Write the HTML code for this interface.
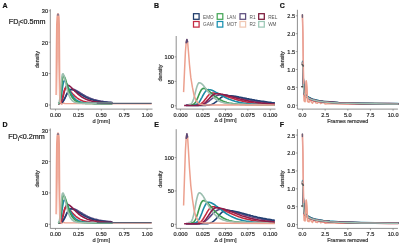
<!DOCTYPE html><html><head><meta charset="utf-8"><style>html,body{margin:0;padding:0;background:#fff;width:400px;height:245px;overflow:hidden}svg{display:block;will-change:transform}</style></head><body><svg width="400" height="245" viewBox="0 0 400 245" font-family="Liberation Sans, sans-serif">
<rect width="400" height="245" fill="#fff"/>
<text x="5.00" y="8.00" font-size="7" text-anchor="middle" fill="#111" stroke="#111" stroke-width="0.2" font-weight="bold" >A</text>
<text x="156.50" y="8.00" font-size="7" text-anchor="middle" fill="#111" stroke="#111" stroke-width="0.2" font-weight="bold" >B</text>
<text x="282.20" y="8.00" font-size="7" text-anchor="middle" fill="#111" stroke="#111" stroke-width="0.2" font-weight="bold" >C</text>
<text x="5.00" y="127.30" font-size="7" text-anchor="middle" fill="#111" stroke="#111" stroke-width="0.2" font-weight="bold" >D</text>
<text x="156.50" y="127.30" font-size="7" text-anchor="middle" fill="#111" stroke="#111" stroke-width="0.2" font-weight="bold" >E</text>
<text x="281.80" y="127.30" font-size="7" text-anchor="middle" fill="#111" stroke="#111" stroke-width="0.2" font-weight="bold" >F</text>
<text x="8.8" y="23.9" font-size="7.2" fill="#222" stroke="#222" stroke-width="0.22">FD<tspan font-size="5.2" dy="1.9">i</tspan><tspan dy="-1.9" dx="-0.3">&lt;0.5mm</tspan></text>
<text x="8.2" y="138.9" font-size="7.2" fill="#222" stroke="#222" stroke-width="0.22">FD<tspan font-size="5.2" dy="1.9">i</tspan><tspan dy="-1.9" dx="-0.3">&lt;0.2mm</tspan></text>
<path d="M50.3,9.2 L50.3,109.1 L152.5,109.1" fill="none" stroke="#6a6a6a" stroke-width="0.75"/>
<line x1="48.699999999999996" y1="105.00" x2="50.3" y2="105.00" stroke="#6a6a6a" stroke-width="0.6"/>
<text x="48.00" y="107.40" font-size="5.6" text-anchor="end" fill="#2a2a2a" stroke="#2a2a2a" stroke-width="0.2" font-weight="normal" >0</text>
<line x1="48.699999999999996" y1="73.60" x2="50.3" y2="73.60" stroke="#6a6a6a" stroke-width="0.6"/>
<text x="48.00" y="76.00" font-size="5.6" text-anchor="end" fill="#2a2a2a" stroke="#2a2a2a" stroke-width="0.2" font-weight="normal" >10</text>
<line x1="48.699999999999996" y1="42.20" x2="50.3" y2="42.20" stroke="#6a6a6a" stroke-width="0.6"/>
<text x="48.00" y="44.60" font-size="5.6" text-anchor="end" fill="#2a2a2a" stroke="#2a2a2a" stroke-width="0.2" font-weight="normal" >20</text>
<line x1="48.699999999999996" y1="10.80" x2="50.3" y2="10.80" stroke="#6a6a6a" stroke-width="0.6"/>
<text x="48.00" y="13.20" font-size="5.6" text-anchor="end" fill="#2a2a2a" stroke="#2a2a2a" stroke-width="0.2" font-weight="normal" >30</text>
<line x1="55.50" y1="109.1" x2="55.50" y2="110.69999999999999" stroke="#6a6a6a" stroke-width="0.6"/>
<text x="55.50" y="116.80" font-size="5.6" text-anchor="middle" fill="#2a2a2a" stroke="#2a2a2a" stroke-width="0.2" font-weight="normal" >0.00</text>
<line x1="78.40" y1="109.1" x2="78.40" y2="110.69999999999999" stroke="#6a6a6a" stroke-width="0.6"/>
<text x="78.40" y="116.80" font-size="5.6" text-anchor="middle" fill="#2a2a2a" stroke="#2a2a2a" stroke-width="0.2" font-weight="normal" >0.25</text>
<line x1="101.30" y1="109.1" x2="101.30" y2="110.69999999999999" stroke="#6a6a6a" stroke-width="0.6"/>
<text x="101.30" y="116.80" font-size="5.6" text-anchor="middle" fill="#2a2a2a" stroke="#2a2a2a" stroke-width="0.2" font-weight="normal" >0.50</text>
<line x1="124.20" y1="109.1" x2="124.20" y2="110.69999999999999" stroke="#6a6a6a" stroke-width="0.6"/>
<text x="124.20" y="116.80" font-size="5.6" text-anchor="middle" fill="#2a2a2a" stroke="#2a2a2a" stroke-width="0.2" font-weight="normal" >0.75</text>
<line x1="147.10" y1="109.1" x2="147.10" y2="110.69999999999999" stroke="#6a6a6a" stroke-width="0.6"/>
<text x="147.10" y="116.80" font-size="5.6" text-anchor="middle" fill="#2a2a2a" stroke="#2a2a2a" stroke-width="0.2" font-weight="normal" >1.00</text>
<text x="39.1" y="59.6" font-size="5.4" text-anchor="middle" fill="#333" stroke="#333" stroke-width="0.18" transform="rotate(-90 39.1 59.6)">density</text>
<text x="101.30" y="123.10" font-size="5.7" text-anchor="middle" fill="#333" stroke="#333" stroke-width="0.18">d [mm]</text>
<path d="M60.1,100.6 L61.5,102.5 L64.7,103.4 L151.7,103.7" fill="none" stroke="#eca08e" stroke-width="1.5"/>
<path d="M58.2,103.3 58.3,103.3 58.4,103.3 58.6,103.3 58.8,103.3 59.0,103.3 59.2,103.3 59.4,103.3 59.7,103.2 60.0,103.2 60.2,103.2 60.6,103.1 60.9,103.0 61.2,102.8 61.6,102.7 61.9,102.4 62.3,102.1 62.7,101.6 63.1,101.1 63.5,100.5 63.9,99.8 64.3,99.1 64.8,98.2 65.2,97.3 65.7,96.4 66.2,95.5 66.6,94.5 67.1,93.6 67.6,92.8 68.1,92.0 68.6,91.2 69.2,90.6 69.7,90.1 70.2,89.7 70.8,89.4 71.4,89.2 71.9,89.1 72.5,89.2 73.1,89.2 73.7,89.4 74.3,89.6 74.9,89.8 75.5,90.1 76.1,90.4 76.7,90.7 77.4,91.1 78.0,91.5 78.6,91.8 79.3,92.3 80.0,92.7 80.6,93.1 81.3,93.5 82.0,93.9 82.7,94.4 83.4,94.8 84.1,95.2 84.8,95.6 85.5,96.0 86.2,96.4 86.9,96.7 87.7,97.1 88.4,97.4 89.1,97.8 89.9,98.1 90.7,98.4 91.4,98.7 92.2,98.9 93.0,99.2 93.7,99.5 94.5,99.7 95.3,99.9 96.1,100.1 96.9,100.3 97.7,100.5 98.5,100.7 99.4,100.9 100.2,101.0 101.0,101.2 101.9,101.3 102.7,101.4 103.5,101.6 104.4,101.7 105.2,101.8 106.1,101.9 107.0,102.0 107.9,102.1 108.7,102.2 109.6,102.2 110.5,102.3 111.4,102.4 112.3,102.4" fill="none" stroke="#5e4d86" stroke-width="1.6" stroke-linejoin="round"/>
<path d="M58.2,103.4 58.3,103.4 58.4,103.4 58.6,103.4 58.8,103.4 59.0,103.4 59.2,103.4 59.4,103.4 59.7,103.3 60.0,103.3 60.2,103.3 60.6,103.3 60.9,103.2 61.2,103.1 61.6,102.9 61.9,102.7 62.3,102.4 62.7,102.0 63.1,101.5 63.5,100.9 63.9,100.2 64.3,99.4 64.8,98.5 65.2,97.5 65.7,96.5 66.2,95.4 66.6,94.4 67.1,93.4 67.6,92.5 68.1,91.7 68.6,91.0 69.2,90.4 69.7,90.0 70.2,89.7 70.8,89.6 71.4,89.6 71.9,89.6 72.5,89.7 73.1,89.9 73.7,90.1 74.3,90.4 74.9,90.7 75.5,91.0 76.1,91.4 76.7,91.8 77.4,92.2 78.0,92.6 78.6,93.0 79.3,93.5 80.0,93.9 80.6,94.3 81.3,94.7 82.0,95.2 82.7,95.6 83.4,96.0 84.1,96.4 84.8,96.8 85.5,97.1 86.2,97.5 86.9,97.8 87.7,98.1 88.4,98.5 89.1,98.8 89.9,99.0 90.7,99.3 91.4,99.6 92.2,99.8 93.0,100.0 93.7,100.3 94.5,100.5 95.3,100.7 96.1,100.8 96.9,101.0 97.7,101.2 98.5,101.3 99.4,101.5 100.2,101.6 101.0,101.7 101.9,101.8 102.7,101.9 103.5,102.0 104.4,102.1 105.2,102.2 106.1,102.3 107.0,102.4 107.9,102.5 108.7,102.5 109.6,102.6 110.5,102.6 111.4,102.7 112.3,102.7" fill="none" stroke="#223f72" stroke-width="1.6" stroke-linejoin="round"/>
<path d="M58.2,103.4 58.3,103.4 58.4,103.4 58.6,103.4 58.8,103.4 59.0,103.4 59.2,103.4 59.4,103.4 59.7,103.3 60.0,103.3 60.2,103.1 60.6,102.9 60.9,102.6 61.2,102.1 61.6,101.5 61.9,100.6 62.3,99.5 62.7,98.2 63.1,96.7 63.5,95.1 63.9,93.3 64.3,91.6 64.8,90.0 65.2,88.5 65.7,87.3 66.2,86.3 66.6,85.6 67.1,85.3 67.6,85.2 68.1,85.3 68.6,85.5 69.2,85.8 69.7,86.1 70.2,86.5 70.8,87.0 71.4,87.5 71.9,88.1 72.5,88.7 73.1,89.3 73.7,89.9 74.3,90.5 74.9,91.1 75.5,91.7 76.1,92.3 76.7,92.9 77.4,93.5 78.0,94.1 78.6,94.7 79.3,95.2 80.0,95.7 80.6,96.2 81.3,96.7 82.0,97.1 82.7,97.5 83.4,97.9 84.1,98.3 84.8,98.6 85.5,99.0 86.2,99.3 86.9,99.6 87.7,99.9 88.4,100.1 89.1,100.4 89.9,100.6 90.7,100.8 91.4,101.0 92.2,101.2 93.0,101.4 93.7,101.5 94.5,101.7 95.3,101.8 96.1,101.9 96.9,102.0 97.7,102.1 98.5,102.2 99.4,102.3 100.2,102.4 101.0,102.5 101.9,102.6 102.7,102.6 103.5,102.7 104.4,102.8 105.2,102.8 106.1,102.9 107.0,102.9 107.9,102.9 108.7,103.0 109.6,103.0 110.5,103.1 111.4,103.1 112.3,103.1" fill="none" stroke="#8c1c4a" stroke-width="1.6" stroke-linejoin="round"/>
<path d="M58.2,103.6 58.3,103.6 58.4,103.6 58.6,103.6 58.8,103.6 59.0,103.6 59.2,103.6 59.4,103.5 59.7,103.5 60.0,103.3 60.2,103.1 60.6,102.8 60.9,102.3 61.2,101.6 61.6,100.7 61.9,99.5 62.3,98.2 62.7,96.6 63.1,95.0 63.5,93.3 63.9,91.7 64.3,90.4 64.8,89.2 65.2,88.4 65.7,88.0 66.2,87.9 66.6,88.0 67.1,88.2 67.6,88.5 68.1,88.9 68.6,89.4 69.2,89.9 69.7,90.5 70.2,91.1 70.8,91.7 71.4,92.3 71.9,93.0 72.5,93.7 73.1,94.3 73.7,94.9 74.3,95.5 74.9,96.1 75.5,96.7 76.1,97.2 76.7,97.7 77.4,98.2 78.0,98.6 78.6,99.0 79.3,99.4 80.0,99.8 80.6,100.1 81.3,100.4 82.0,100.7 82.7,101.0 83.4,101.2 84.1,101.4 84.8,101.6 85.5,101.8 86.2,102.0 86.9,102.1 87.7,102.3 88.4,102.4 89.1,102.5 89.9,102.6 90.7,102.7 91.4,102.8 92.2,102.9 93.0,103.0 93.7,103.0 94.5,103.1 95.3,103.1 96.1,103.2 96.9,103.2 97.7,103.3 98.5,103.3 99.4,103.3 100.2,103.3 101.0,103.4 101.9,103.4 102.7,103.4 103.5,103.4 104.4,103.4 105.2,103.5 106.1,103.5 107.0,103.5 107.9,103.5 108.7,103.5 109.6,103.5 110.5,103.5 111.4,103.5 112.3,103.5" fill="none" stroke="#c42a40" stroke-width="1.6" stroke-linejoin="round"/>
<path d="M58.2,103.4 58.3,103.4 58.4,103.4 58.6,103.4 58.8,103.4 59.0,103.4 59.2,103.3 59.4,103.1 59.7,102.8 60.0,102.3 60.2,101.6 60.6,100.4 60.9,98.9 61.2,96.9 61.6,94.5 61.9,91.9 62.3,89.1 62.7,86.5 63.1,84.2 63.5,82.4 63.9,81.3 64.3,80.8 64.8,80.9 65.2,81.3 65.7,81.9 66.2,82.7 66.6,83.6 67.1,84.7 67.6,85.8 68.1,87.0 68.6,88.2 69.2,89.4 69.7,90.6 70.2,91.8 70.8,92.9 71.4,93.9 71.9,94.9 72.5,95.8 73.1,96.6 73.7,97.4 74.3,98.1 74.9,98.7 75.5,99.3 76.1,99.8 76.7,100.2 77.4,100.6 78.0,101.0 78.6,101.3 79.3,101.6 80.0,101.8 80.6,102.0 81.3,102.2 82.0,102.4 82.7,102.5 83.4,102.7 84.1,102.8 84.8,102.9 85.5,102.9 86.2,103.0 86.9,103.1 87.7,103.1 88.4,103.2 89.1,103.2 89.9,103.2 90.7,103.3 91.4,103.3 92.2,103.3 93.0,103.3 93.7,103.3 94.5,103.4 95.3,103.4 96.1,103.4 96.9,103.4 97.7,103.4 98.5,103.4 99.4,103.4 100.2,103.4 101.0,103.4 101.9,103.4 102.7,103.4 103.5,103.4 104.4,103.4 105.2,103.4 106.1,103.4 107.0,103.4 107.9,103.4 108.7,103.4 109.6,103.4 110.5,103.4 111.4,103.4 112.3,103.4" fill="none" stroke="#1c8aa6" stroke-width="1.6" stroke-linejoin="round"/>
<path d="M58.2,103.6 58.3,103.6 58.4,103.5 58.6,103.5 58.8,103.4 59.0,103.3 59.2,103.0 59.4,102.6 59.7,101.8 60.0,100.6 60.2,98.9 60.6,96.7 60.9,93.9 61.2,90.6 61.6,87.1 61.9,83.7 62.3,80.6 62.7,78.2 63.1,76.6 63.5,76.0 63.9,76.1 64.3,76.6 64.8,77.5 65.2,78.6 65.7,79.9 66.2,81.4 66.6,83.0 67.1,84.7 67.6,86.4 68.1,88.0 68.6,89.6 69.2,91.1 69.7,92.5 70.2,93.8 70.8,95.0 71.4,96.0 71.9,97.0 72.5,97.9 73.1,98.6 73.7,99.3 74.3,99.9 74.9,100.5 75.5,100.9 76.1,101.3 76.7,101.6 77.4,101.9 78.0,102.2 78.6,102.4 79.3,102.6 80.0,102.7 80.6,102.9 81.3,103.0 82.0,103.1 82.7,103.2 83.4,103.2 84.1,103.3 84.8,103.3 85.5,103.4 86.2,103.4 86.9,103.4 87.7,103.5 88.4,103.5 89.1,103.5 89.9,103.5 90.7,103.5 91.4,103.5 92.2,103.5 93.0,103.6 93.7,103.6 94.5,103.6 95.3,103.6 96.1,103.6 96.9,103.6 97.7,103.6 98.5,103.6 99.4,103.6 100.2,103.6 101.0,103.6 101.9,103.6 102.7,103.6 103.5,103.6 104.4,103.6 105.2,103.6 106.1,103.6 107.0,103.6 107.9,103.6 108.7,103.6 109.6,103.6 110.5,103.6 111.4,103.6 112.3,103.6" fill="none" stroke="#3d9a52" stroke-width="1.6" stroke-linejoin="round"/>
<path d="M58.2,103.4 58.3,103.3 58.4,103.3 58.6,103.2 58.8,103.0 59.0,102.6 59.2,102.0 59.4,101.0 59.7,99.4 60.0,97.3 60.2,94.4 60.6,91.0 60.9,87.2 61.2,83.3 61.6,79.7 61.9,76.7 62.3,74.6 62.7,73.7 63.1,73.7 63.5,74.4 63.9,75.5 64.3,77.0 64.8,78.8 65.2,80.8 65.7,83.0 66.2,85.1 66.6,87.2 67.1,89.2 67.6,91.0 68.1,92.7 68.6,94.3 69.2,95.7 69.7,96.9 70.2,97.9 70.8,98.9 71.4,99.6 71.9,100.3 72.5,100.9 73.1,101.3 73.7,101.7 74.3,102.0 74.9,102.3 75.5,102.5 76.1,102.7 76.7,102.8 77.4,103.0 78.0,103.0 78.6,103.1 79.3,103.2 80.0,103.2 80.6,103.3 81.3,103.3 82.0,103.3 82.7,103.4 83.4,103.4 84.1,103.4 84.8,103.4 85.5,103.4 86.2,103.4 86.9,103.4 87.7,103.4 88.4,103.4 89.1,103.4 89.9,103.4 90.7,103.4 91.4,103.4 92.2,103.4 93.0,103.4 93.7,103.4 94.5,103.4 95.3,103.4 96.1,103.4 96.9,103.4 97.7,103.4 98.5,103.4 99.4,103.4 100.2,103.4 101.0,103.4 101.9,103.4 102.7,103.4 103.5,103.4 104.4,103.4 105.2,103.4 106.1,103.4 107.0,103.4 107.9,103.4 108.7,103.4 109.6,103.4 110.5,103.4 111.4,103.4 112.3,103.4" fill="none" stroke="#9cbfb0" stroke-width="1.6" stroke-linejoin="round"/>
<path d="M96.7,103.1 L112.3,103.3 L128.8,103.4 L151.7,103.4" fill="none" stroke="#5a5f72" stroke-width="1.3"/>
<defs><linearGradient id="g0" x1="0" y1="13" x2="0" y2="95" gradientUnits="userSpaceOnUse"><stop offset="0" stop-color="#eca08e" stop-opacity="1"/><stop offset="0.55" stop-color="#eca08e" stop-opacity="0.8"/><stop offset="1" stop-color="#eca08e" stop-opacity="0.1"/></linearGradient></defs>
<path d="M56.1,95.0 56.2,80.0 56.4,50.0 56.7,25.0 57.1,17.0 57.6,14.2 58.0,13.8 58.5,14.2 59.0,17.0 59.3,25.0 59.5,50.0 59.7,80.0 60.0,97.0 Z" fill="url(#g0)" stroke="none"/>
<path d="M56.1,95.0 56.2,80.0 56.4,50.0 56.7,25.0 57.1,17.0 57.6,14.2 58.0,13.8 58.5,14.2 59.0,17.0 59.3,25.0 59.5,50.0 59.7,80.0 60.0,97.0 60.5,102.5 61.5,104.0 62.5,104.3" fill="none" stroke="#eca08e" stroke-width="1.4" stroke-linejoin="round"/>
<path d="M57.4,15.2 Q58.0,13.2 58.6,15.2" fill="none" stroke="#8a7a90" stroke-width="1.2" stroke-linecap="round"/>
<path d="M50.3,128.5 L50.3,228.39999999999998 L152.5,228.39999999999998" fill="none" stroke="#6a6a6a" stroke-width="0.75"/>
<line x1="48.699999999999996" y1="224.30" x2="50.3" y2="224.30" stroke="#6a6a6a" stroke-width="0.6"/>
<text x="48.00" y="226.70" font-size="5.6" text-anchor="end" fill="#2a2a2a" stroke="#2a2a2a" stroke-width="0.2" font-weight="normal" >0</text>
<line x1="48.699999999999996" y1="192.90" x2="50.3" y2="192.90" stroke="#6a6a6a" stroke-width="0.6"/>
<text x="48.00" y="195.30" font-size="5.6" text-anchor="end" fill="#2a2a2a" stroke="#2a2a2a" stroke-width="0.2" font-weight="normal" >10</text>
<line x1="48.699999999999996" y1="161.50" x2="50.3" y2="161.50" stroke="#6a6a6a" stroke-width="0.6"/>
<text x="48.00" y="163.90" font-size="5.6" text-anchor="end" fill="#2a2a2a" stroke="#2a2a2a" stroke-width="0.2" font-weight="normal" >20</text>
<line x1="48.699999999999996" y1="130.10" x2="50.3" y2="130.10" stroke="#6a6a6a" stroke-width="0.6"/>
<text x="48.00" y="132.50" font-size="5.6" text-anchor="end" fill="#2a2a2a" stroke="#2a2a2a" stroke-width="0.2" font-weight="normal" >30</text>
<line x1="55.50" y1="228.39999999999998" x2="55.50" y2="229.99999999999997" stroke="#6a6a6a" stroke-width="0.6"/>
<text x="55.50" y="236.10" font-size="5.6" text-anchor="middle" fill="#2a2a2a" stroke="#2a2a2a" stroke-width="0.2" font-weight="normal" >0.00</text>
<line x1="78.40" y1="228.39999999999998" x2="78.40" y2="229.99999999999997" stroke="#6a6a6a" stroke-width="0.6"/>
<text x="78.40" y="236.10" font-size="5.6" text-anchor="middle" fill="#2a2a2a" stroke="#2a2a2a" stroke-width="0.2" font-weight="normal" >0.25</text>
<line x1="101.30" y1="228.39999999999998" x2="101.30" y2="229.99999999999997" stroke="#6a6a6a" stroke-width="0.6"/>
<text x="101.30" y="236.10" font-size="5.6" text-anchor="middle" fill="#2a2a2a" stroke="#2a2a2a" stroke-width="0.2" font-weight="normal" >0.50</text>
<line x1="124.20" y1="228.39999999999998" x2="124.20" y2="229.99999999999997" stroke="#6a6a6a" stroke-width="0.6"/>
<text x="124.20" y="236.10" font-size="5.6" text-anchor="middle" fill="#2a2a2a" stroke="#2a2a2a" stroke-width="0.2" font-weight="normal" >0.75</text>
<line x1="147.10" y1="228.39999999999998" x2="147.10" y2="229.99999999999997" stroke="#6a6a6a" stroke-width="0.6"/>
<text x="147.10" y="236.10" font-size="5.6" text-anchor="middle" fill="#2a2a2a" stroke="#2a2a2a" stroke-width="0.2" font-weight="normal" >1.00</text>
<text x="39.1" y="178.9" font-size="5.4" text-anchor="middle" fill="#333" stroke="#333" stroke-width="0.18" transform="rotate(-90 39.1 178.9)">density</text>
<text x="101.30" y="242.40" font-size="5.7" text-anchor="middle" fill="#333" stroke="#333" stroke-width="0.18">d [mm]</text>
<path d="M60.1,219.9 L61.5,221.8 L64.7,222.7 L151.7,223.0" fill="none" stroke="#eca08e" stroke-width="1.5"/>
<path d="M58.2,222.6 58.3,222.6 58.4,222.6 58.6,222.6 58.8,222.6 59.0,222.6 59.2,222.6 59.4,222.6 59.7,222.5 60.0,222.5 60.2,222.5 60.6,222.4 60.9,222.3 61.2,222.1 61.6,222.0 61.9,221.7 62.3,221.4 62.7,220.9 63.1,220.4 63.5,219.8 63.9,219.1 64.3,218.4 64.8,217.5 65.2,216.6 65.7,215.7 66.2,214.8 66.6,213.8 67.1,212.9 67.6,212.1 68.1,211.3 68.6,210.5 69.2,209.9 69.7,209.4 70.2,209.0 70.8,208.7 71.4,208.5 71.9,208.4 72.5,208.5 73.1,208.5 73.7,208.7 74.3,208.9 74.9,209.1 75.5,209.4 76.1,209.7 76.7,210.0 77.4,210.4 78.0,210.8 78.6,211.1 79.3,211.6 80.0,212.0 80.6,212.4 81.3,212.8 82.0,213.2 82.7,213.7 83.4,214.1 84.1,214.5 84.8,214.9 85.5,215.3 86.2,215.7 86.9,216.0 87.7,216.4 88.4,216.7 89.1,217.1 89.9,217.4 90.7,217.7 91.4,218.0 92.2,218.2 93.0,218.5 93.7,218.8 94.5,219.0 95.3,219.2 96.1,219.4 96.9,219.6 97.7,219.8 98.5,220.0 99.4,220.2 100.2,220.3 101.0,220.5 101.9,220.6 102.7,220.7 103.5,220.9 104.4,221.0 105.2,221.1 106.1,221.2 107.0,221.3 107.9,221.4 108.7,221.5 109.6,221.5 110.5,221.6 111.4,221.7 112.3,221.7" fill="none" stroke="#5e4d86" stroke-width="1.6" stroke-linejoin="round"/>
<path d="M58.2,222.7 58.3,222.7 58.4,222.7 58.6,222.7 58.8,222.7 59.0,222.7 59.2,222.7 59.4,222.7 59.7,222.6 60.0,222.6 60.2,222.6 60.6,222.6 60.9,222.5 61.2,222.4 61.6,222.2 61.9,222.0 62.3,221.7 62.7,221.3 63.1,220.8 63.5,220.2 63.9,219.5 64.3,218.7 64.8,217.8 65.2,216.8 65.7,215.8 66.2,214.7 66.6,213.7 67.1,212.7 67.6,211.8 68.1,211.0 68.6,210.3 69.2,209.7 69.7,209.3 70.2,209.0 70.8,208.9 71.4,208.9 71.9,208.9 72.5,209.0 73.1,209.2 73.7,209.4 74.3,209.7 74.9,210.0 75.5,210.3 76.1,210.7 76.7,211.1 77.4,211.5 78.0,211.9 78.6,212.3 79.3,212.8 80.0,213.2 80.6,213.6 81.3,214.0 82.0,214.5 82.7,214.9 83.4,215.3 84.1,215.7 84.8,216.1 85.5,216.4 86.2,216.8 86.9,217.1 87.7,217.4 88.4,217.8 89.1,218.1 89.9,218.3 90.7,218.6 91.4,218.9 92.2,219.1 93.0,219.3 93.7,219.6 94.5,219.8 95.3,220.0 96.1,220.1 96.9,220.3 97.7,220.5 98.5,220.6 99.4,220.8 100.2,220.9 101.0,221.0 101.9,221.1 102.7,221.2 103.5,221.3 104.4,221.4 105.2,221.5 106.1,221.6 107.0,221.7 107.9,221.8 108.7,221.8 109.6,221.9 110.5,221.9 111.4,222.0 112.3,222.0" fill="none" stroke="#223f72" stroke-width="1.6" stroke-linejoin="round"/>
<path d="M58.2,222.7 58.3,222.7 58.4,222.7 58.6,222.7 58.8,222.7 59.0,222.7 59.2,222.7 59.4,222.7 59.7,222.6 60.0,222.6 60.2,222.4 60.6,222.2 60.9,221.9 61.2,221.4 61.6,220.8 61.9,219.9 62.3,218.8 62.7,217.5 63.1,216.0 63.5,214.4 63.9,212.6 64.3,210.9 64.8,209.3 65.2,207.8 65.7,206.6 66.2,205.6 66.6,204.9 67.1,204.6 67.6,204.5 68.1,204.6 68.6,204.8 69.2,205.1 69.7,205.4 70.2,205.8 70.8,206.3 71.4,206.8 71.9,207.4 72.5,208.0 73.1,208.6 73.7,209.2 74.3,209.8 74.9,210.4 75.5,211.0 76.1,211.6 76.7,212.2 77.4,212.8 78.0,213.4 78.6,214.0 79.3,214.5 80.0,215.0 80.6,215.5 81.3,216.0 82.0,216.4 82.7,216.8 83.4,217.2 84.1,217.6 84.8,217.9 85.5,218.3 86.2,218.6 86.9,218.9 87.7,219.2 88.4,219.4 89.1,219.7 89.9,219.9 90.7,220.1 91.4,220.3 92.2,220.5 93.0,220.7 93.7,220.8 94.5,221.0 95.3,221.1 96.1,221.2 96.9,221.3 97.7,221.4 98.5,221.5 99.4,221.6 100.2,221.7 101.0,221.8 101.9,221.9 102.7,221.9 103.5,222.0 104.4,222.1 105.2,222.1 106.1,222.2 107.0,222.2 107.9,222.2 108.7,222.3 109.6,222.3 110.5,222.4 111.4,222.4 112.3,222.4" fill="none" stroke="#8c1c4a" stroke-width="1.6" stroke-linejoin="round"/>
<path d="M58.2,222.9 58.3,222.9 58.4,222.9 58.6,222.9 58.8,222.9 59.0,222.9 59.2,222.9 59.4,222.8 59.7,222.8 60.0,222.6 60.2,222.4 60.6,222.1 60.9,221.6 61.2,220.9 61.6,220.0 61.9,218.8 62.3,217.5 62.7,215.9 63.1,214.3 63.5,212.6 63.9,211.0 64.3,209.7 64.8,208.5 65.2,207.7 65.7,207.3 66.2,207.2 66.6,207.3 67.1,207.5 67.6,207.8 68.1,208.2 68.6,208.7 69.2,209.2 69.7,209.8 70.2,210.4 70.8,211.0 71.4,211.6 71.9,212.3 72.5,213.0 73.1,213.6 73.7,214.2 74.3,214.8 74.9,215.4 75.5,216.0 76.1,216.5 76.7,217.0 77.4,217.5 78.0,217.9 78.6,218.3 79.3,218.7 80.0,219.1 80.6,219.4 81.3,219.7 82.0,220.0 82.7,220.3 83.4,220.5 84.1,220.7 84.8,220.9 85.5,221.1 86.2,221.3 86.9,221.4 87.7,221.6 88.4,221.7 89.1,221.8 89.9,221.9 90.7,222.0 91.4,222.1 92.2,222.2 93.0,222.3 93.7,222.3 94.5,222.4 95.3,222.4 96.1,222.5 96.9,222.5 97.7,222.6 98.5,222.6 99.4,222.6 100.2,222.6 101.0,222.7 101.9,222.7 102.7,222.7 103.5,222.7 104.4,222.7 105.2,222.8 106.1,222.8 107.0,222.8 107.9,222.8 108.7,222.8 109.6,222.8 110.5,222.8 111.4,222.8 112.3,222.8" fill="none" stroke="#c42a40" stroke-width="1.6" stroke-linejoin="round"/>
<path d="M58.2,222.7 58.3,222.7 58.4,222.7 58.6,222.7 58.8,222.7 59.0,222.7 59.2,222.6 59.4,222.4 59.7,222.1 60.0,221.6 60.2,220.9 60.6,219.7 60.9,218.2 61.2,216.2 61.6,213.8 61.9,211.2 62.3,208.4 62.7,205.8 63.1,203.5 63.5,201.7 63.9,200.6 64.3,200.1 64.8,200.2 65.2,200.6 65.7,201.2 66.2,202.0 66.6,202.9 67.1,204.0 67.6,205.1 68.1,206.3 68.6,207.5 69.2,208.7 69.7,209.9 70.2,211.1 70.8,212.2 71.4,213.2 71.9,214.2 72.5,215.1 73.1,215.9 73.7,216.7 74.3,217.4 74.9,218.0 75.5,218.6 76.1,219.1 76.7,219.5 77.4,219.9 78.0,220.3 78.6,220.6 79.3,220.9 80.0,221.1 80.6,221.3 81.3,221.5 82.0,221.7 82.7,221.8 83.4,222.0 84.1,222.1 84.8,222.2 85.5,222.2 86.2,222.3 86.9,222.4 87.7,222.4 88.4,222.5 89.1,222.5 89.9,222.5 90.7,222.6 91.4,222.6 92.2,222.6 93.0,222.6 93.7,222.6 94.5,222.7 95.3,222.7 96.1,222.7 96.9,222.7 97.7,222.7 98.5,222.7 99.4,222.7 100.2,222.7 101.0,222.7 101.9,222.7 102.7,222.7 103.5,222.7 104.4,222.7 105.2,222.7 106.1,222.7 107.0,222.7 107.9,222.7 108.7,222.7 109.6,222.7 110.5,222.7 111.4,222.7 112.3,222.7" fill="none" stroke="#1c8aa6" stroke-width="1.6" stroke-linejoin="round"/>
<path d="M58.2,222.9 58.3,222.9 58.4,222.8 58.6,222.8 58.8,222.7 59.0,222.6 59.2,222.3 59.4,221.9 59.7,221.1 60.0,219.9 60.2,218.2 60.6,216.0 60.9,213.2 61.2,209.9 61.6,206.4 61.9,203.0 62.3,199.9 62.7,197.5 63.1,195.9 63.5,195.3 63.9,195.4 64.3,195.9 64.8,196.8 65.2,197.9 65.7,199.2 66.2,200.7 66.6,202.3 67.1,204.0 67.6,205.7 68.1,207.3 68.6,208.9 69.2,210.4 69.7,211.8 70.2,213.1 70.8,214.3 71.4,215.3 71.9,216.3 72.5,217.2 73.1,217.9 73.7,218.6 74.3,219.2 74.9,219.8 75.5,220.2 76.1,220.6 76.7,220.9 77.4,221.2 78.0,221.5 78.6,221.7 79.3,221.9 80.0,222.0 80.6,222.2 81.3,222.3 82.0,222.4 82.7,222.5 83.4,222.5 84.1,222.6 84.8,222.6 85.5,222.7 86.2,222.7 86.9,222.7 87.7,222.8 88.4,222.8 89.1,222.8 89.9,222.8 90.7,222.8 91.4,222.8 92.2,222.8 93.0,222.9 93.7,222.9 94.5,222.9 95.3,222.9 96.1,222.9 96.9,222.9 97.7,222.9 98.5,222.9 99.4,222.9 100.2,222.9 101.0,222.9 101.9,222.9 102.7,222.9 103.5,222.9 104.4,222.9 105.2,222.9 106.1,222.9 107.0,222.9 107.9,222.9 108.7,222.9 109.6,222.9 110.5,222.9 111.4,222.9 112.3,222.9" fill="none" stroke="#3d9a52" stroke-width="1.6" stroke-linejoin="round"/>
<path d="M58.2,222.7 58.3,222.6 58.4,222.6 58.6,222.5 58.8,222.3 59.0,221.9 59.2,221.3 59.4,220.3 59.7,218.7 60.0,216.6 60.2,213.7 60.6,210.3 60.9,206.5 61.2,202.6 61.6,199.0 61.9,196.0 62.3,193.9 62.7,193.0 63.1,193.0 63.5,193.7 63.9,194.8 64.3,196.3 64.8,198.1 65.2,200.1 65.7,202.3 66.2,204.4 66.6,206.5 67.1,208.5 67.6,210.3 68.1,212.0 68.6,213.6 69.2,215.0 69.7,216.2 70.2,217.2 70.8,218.2 71.4,218.9 71.9,219.6 72.5,220.2 73.1,220.6 73.7,221.0 74.3,221.3 74.9,221.6 75.5,221.8 76.1,222.0 76.7,222.1 77.4,222.3 78.0,222.3 78.6,222.4 79.3,222.5 80.0,222.5 80.6,222.6 81.3,222.6 82.0,222.6 82.7,222.7 83.4,222.7 84.1,222.7 84.8,222.7 85.5,222.7 86.2,222.7 86.9,222.7 87.7,222.7 88.4,222.7 89.1,222.7 89.9,222.7 90.7,222.7 91.4,222.7 92.2,222.7 93.0,222.7 93.7,222.7 94.5,222.7 95.3,222.7 96.1,222.7 96.9,222.7 97.7,222.7 98.5,222.7 99.4,222.7 100.2,222.7 101.0,222.7 101.9,222.7 102.7,222.7 103.5,222.7 104.4,222.7 105.2,222.7 106.1,222.7 107.0,222.7 107.9,222.7 108.7,222.7 109.6,222.7 110.5,222.7 111.4,222.7 112.3,222.7" fill="none" stroke="#9cbfb0" stroke-width="1.6" stroke-linejoin="round"/>
<path d="M96.7,222.4 L112.3,222.6 L128.8,222.7 L151.7,222.7" fill="none" stroke="#5a5f72" stroke-width="1.3"/>
<defs><linearGradient id="g119" x1="0" y1="132.3" x2="0" y2="214.3" gradientUnits="userSpaceOnUse"><stop offset="0" stop-color="#eca08e" stop-opacity="1"/><stop offset="0.55" stop-color="#eca08e" stop-opacity="0.8"/><stop offset="1" stop-color="#eca08e" stop-opacity="0.1"/></linearGradient></defs>
<path d="M56.1,214.3 56.2,199.3 56.4,169.3 56.7,144.3 57.1,136.3 57.6,133.5 58.0,133.1 58.5,133.5 59.0,136.3 59.3,144.3 59.5,169.3 59.7,199.3 60.0,216.3 Z" fill="url(#g119)" stroke="none"/>
<path d="M56.1,214.3 56.2,199.3 56.4,169.3 56.7,144.3 57.1,136.3 57.6,133.5 58.0,133.1 58.5,133.5 59.0,136.3 59.3,144.3 59.5,169.3 59.7,199.3 60.0,216.3 60.5,221.8 61.5,223.3 62.5,223.6" fill="none" stroke="#eca08e" stroke-width="1.4" stroke-linejoin="round"/>
<path d="M57.4,134.5 Q58.0,132.5 58.6,134.5" fill="none" stroke="#8a7a90" stroke-width="1.2" stroke-linecap="round"/>
<path d="M176.2,36.0 L176.2,109.1 L275.5,109.1" fill="none" stroke="#6a6a6a" stroke-width="0.75"/>
<line x1="174.6" y1="105.80" x2="176.2" y2="105.80" stroke="#6a6a6a" stroke-width="0.6"/>
<text x="173.90" y="108.20" font-size="5.6" text-anchor="end" fill="#2a2a2a" stroke="#2a2a2a" stroke-width="0.2" font-weight="normal" >0</text>
<line x1="174.6" y1="81.35" x2="176.2" y2="81.35" stroke="#6a6a6a" stroke-width="0.6"/>
<text x="173.90" y="83.75" font-size="5.6" text-anchor="end" fill="#2a2a2a" stroke="#2a2a2a" stroke-width="0.2" font-weight="normal" >50</text>
<line x1="174.6" y1="56.90" x2="176.2" y2="56.90" stroke="#6a6a6a" stroke-width="0.6"/>
<text x="173.90" y="59.30" font-size="5.6" text-anchor="end" fill="#2a2a2a" stroke="#2a2a2a" stroke-width="0.2" font-weight="normal" >100</text>
<line x1="180.50" y1="109.1" x2="180.50" y2="110.69999999999999" stroke="#6a6a6a" stroke-width="0.6"/>
<text x="180.50" y="116.80" font-size="5.6" text-anchor="middle" fill="#2a2a2a" stroke="#2a2a2a" stroke-width="0.2" font-weight="normal" >0.000</text>
<line x1="202.95" y1="109.1" x2="202.95" y2="110.69999999999999" stroke="#6a6a6a" stroke-width="0.6"/>
<text x="202.95" y="116.80" font-size="5.6" text-anchor="middle" fill="#2a2a2a" stroke="#2a2a2a" stroke-width="0.2" font-weight="normal" >0.025</text>
<line x1="225.40" y1="109.1" x2="225.40" y2="110.69999999999999" stroke="#6a6a6a" stroke-width="0.6"/>
<text x="225.40" y="116.80" font-size="5.6" text-anchor="middle" fill="#2a2a2a" stroke="#2a2a2a" stroke-width="0.2" font-weight="normal" >0.050</text>
<line x1="247.85" y1="109.1" x2="247.85" y2="110.69999999999999" stroke="#6a6a6a" stroke-width="0.6"/>
<text x="247.85" y="116.80" font-size="5.6" text-anchor="middle" fill="#2a2a2a" stroke="#2a2a2a" stroke-width="0.2" font-weight="normal" >0.075</text>
<line x1="270.30" y1="109.1" x2="270.30" y2="110.69999999999999" stroke="#6a6a6a" stroke-width="0.6"/>
<text x="270.30" y="116.80" font-size="5.6" text-anchor="middle" fill="#2a2a2a" stroke="#2a2a2a" stroke-width="0.2" font-weight="normal" >0.100</text>
<text x="162.3" y="73.05" font-size="5.4" text-anchor="middle" fill="#333" stroke="#333" stroke-width="0.18" transform="rotate(-90 162.3 73.05)">density</text>
<text x="225.40" y="122.40" font-size="5.7" text-anchor="middle" fill="#333" stroke="#333" stroke-width="0.18">Δ d [mm]</text>
<path d="M185.9,105.3 186.0,105.3 186.2,105.3 186.4,105.3 186.7,105.3 187.1,105.3 187.4,105.3 187.8,105.3 188.2,105.3 188.7,105.3 189.2,105.3 189.7,105.3 190.2,105.3 190.8,105.3 191.3,105.3 191.9,105.3 192.6,105.3 193.2,105.3 193.8,105.3 194.5,105.3 195.2,105.3 195.9,105.3 196.6,105.3 197.4,105.3 198.1,105.2 198.9,105.2 199.7,105.1 200.5,105.0 201.3,104.9 202.1,104.7 203.0,104.5 203.9,104.2 204.7,103.8 205.6,103.3 206.5,102.8 207.4,102.2 208.4,101.5 209.3,100.8 210.3,100.0 211.2,99.3 212.2,98.5 213.2,97.7 214.2,97.1 215.2,96.4 216.3,95.9 217.3,95.4 218.4,95.1 219.4,94.9 220.5,94.8 221.6,94.8 222.7,94.8 223.8,94.9 224.9,95.0 226.1,95.1 227.2,95.3 228.4,95.5 229.5,95.7 230.7,95.9 231.9,96.1 233.1,96.4 234.3,96.6 235.5,96.9 236.7,97.2 238.0,97.5 239.2,97.7 240.5,98.0 241.7,98.3 243.0,98.6 244.3,98.9 245.6,99.2 246.9,99.4 248.2,99.7 249.5,100.0 250.8,100.2 252.2,100.5 253.5,100.7 254.9,100.9 256.2,101.2 257.6,101.4 259.0,101.6 260.4,101.8 261.8,102.0 263.2,102.2 264.6,102.4 266.0,102.5 267.5,102.7 268.9,102.8 270.4,103.0 271.8,103.1 273.3,103.3 274.8,103.4" fill="none" stroke="#5e4d86" stroke-width="1.6" stroke-linejoin="round"/>
<path d="M185.9,105.4 186.0,105.4 186.2,105.4 186.4,105.4 186.7,105.4 187.1,105.4 187.4,105.4 187.8,105.4 188.2,105.4 188.7,105.4 189.2,105.4 189.7,105.4 190.2,105.4 190.8,105.4 191.3,105.4 191.9,105.4 192.6,105.4 193.2,105.4 193.8,105.4 194.5,105.4 195.2,105.4 195.9,105.4 196.6,105.4 197.4,105.4 198.1,105.4 198.9,105.4 199.7,105.4 200.5,105.4 201.3,105.4 202.1,105.4 203.0,105.4 203.9,105.4 204.7,105.4 205.6,105.4 206.5,105.3 207.4,105.3 208.4,105.2 209.3,105.1 210.3,104.8 211.2,104.6 212.2,104.2 213.2,103.7 214.2,103.1 215.2,102.4 216.3,101.6 217.3,100.7 218.4,99.8 219.4,98.9 220.5,98.0 221.6,97.2 222.7,96.6 223.8,96.1 224.9,95.8 226.1,95.6 227.2,95.6 228.4,95.7 229.5,95.7 230.7,95.8 231.9,96.0 233.1,96.1 234.3,96.3 235.5,96.4 236.7,96.6 238.0,96.8 239.2,97.1 240.5,97.3 241.7,97.5 243.0,97.8 244.3,98.0 245.6,98.3 246.9,98.6 248.2,98.8 249.5,99.1 250.8,99.3 252.2,99.6 253.5,99.8 254.9,100.1 256.2,100.3 257.6,100.6 259.0,100.8 260.4,101.0 261.8,101.2 263.2,101.4 264.6,101.6 266.0,101.8 267.5,102.0 268.9,102.2 270.4,102.4 271.8,102.6 273.3,102.7 274.8,102.9" fill="none" stroke="#223f72" stroke-width="1.6" stroke-linejoin="round"/>
<path d="M187.7,105.2 187.8,105.2 188.0,105.2 188.2,105.2 188.5,105.2 188.8,105.2 189.2,105.2 189.6,105.2 190.0,105.2 190.4,105.2 190.9,105.2 191.4,105.2 191.9,105.2 192.5,105.2 193.0,105.2 193.6,105.2 194.2,105.2 194.8,105.2 195.5,105.2 196.1,105.2 196.8,105.1 197.5,105.0 198.2,104.9 198.9,104.7 199.7,104.5 200.4,104.1 201.2,103.6 202.0,103.0 202.8,102.3 203.6,101.4 204.4,100.4 205.3,99.3 206.2,98.2 207.0,97.1 207.9,96.0 208.8,95.0 209.7,94.2 210.6,93.6 211.6,93.2 212.5,93.0 213.5,93.0 214.5,93.1 215.5,93.2 216.5,93.3 217.5,93.5 218.5,93.8 219.5,94.1 220.6,94.4 221.6,94.7 222.7,95.0 223.8,95.4 224.8,95.8 225.9,96.2 227.0,96.5 228.2,96.9 229.3,97.3 230.4,97.7 231.6,98.1 232.7,98.5 233.9,98.8 235.1,99.2 236.3,99.5 237.5,99.9 238.7,100.2 239.9,100.5 241.1,100.8 242.4,101.1 243.6,101.4 244.9,101.6 246.2,101.9 247.4,102.1 248.7,102.3 250.0,102.5 251.3,102.7 252.6,102.9 253.9,103.1 255.3,103.2 256.6,103.4 258.0,103.5 259.3,103.6 260.7,103.8 262.1,103.9 263.4,104.0 264.8,104.1 266.2,104.2 267.6,104.2 269.0,104.3 270.5,104.4 271.9,104.5 273.3,104.5 274.8,104.6" fill="none" stroke="#c42a40" stroke-width="1.6" stroke-linejoin="round"/>
<path d="M189.5,105.0 189.6,105.0 189.8,105.0 190.0,105.0 190.3,105.0 190.6,105.0 190.9,105.0 191.3,105.0 191.7,105.0 192.2,105.0 192.6,105.0 193.1,105.0 193.6,105.0 194.2,104.9 194.7,104.9 195.3,104.8 195.9,104.6 196.5,104.4 197.1,104.0 197.8,103.6 198.4,102.9 199.1,102.2 199.8,101.2 200.5,100.0 201.2,98.7 202.0,97.3 202.7,95.9 203.5,94.5 204.3,93.1 205.1,91.9 205.9,90.9 206.7,90.2 207.6,89.7 208.4,89.6 209.3,89.7 210.2,89.8 211.1,90.0 212.0,90.3 212.9,90.7 213.8,91.1 214.8,91.6 215.7,92.1 216.7,92.6 217.7,93.1 218.6,93.7 219.6,94.3 220.7,94.9 221.7,95.5 222.7,96.1 223.8,96.6 224.8,97.2 225.9,97.7 226.9,98.2 228.0,98.7 229.1,99.2 230.2,99.6 231.4,100.1 232.5,100.5 233.6,100.8 234.8,101.2 235.9,101.5 237.1,101.8 238.3,102.1 239.4,102.4 240.6,102.6 241.8,102.8 243.1,103.0 244.3,103.2 245.5,103.4 246.7,103.5 248.0,103.7 249.3,103.8 250.5,103.9 251.8,104.0 253.1,104.1 254.4,104.2 255.7,104.3 257.0,104.4 258.3,104.5 259.6,104.5 261.0,104.6 262.3,104.6 263.7,104.7 265.0,104.7 266.4,104.7 267.8,104.8 269.2,104.8 270.6,104.8 272.0,104.8 273.4,104.9 274.8,104.9" fill="none" stroke="#1c8aa6" stroke-width="1.6" stroke-linejoin="round"/>
<path d="M189.5,104.8 189.6,104.8 189.8,104.8 190.0,104.8 190.3,104.8 190.6,104.8 190.9,104.8 191.3,104.8 191.7,104.7 192.2,104.7 192.6,104.6 193.1,104.4 193.6,104.1 194.2,103.8 194.7,103.3 195.3,102.6 195.9,101.6 196.5,100.5 197.1,99.2 197.8,97.7 198.4,96.0 199.1,94.4 199.8,92.7 200.5,91.3 201.2,90.0 202.0,89.1 202.7,88.6 203.5,88.4 204.3,88.5 205.1,88.8 205.9,89.1 206.7,89.6 207.6,90.1 208.4,90.7 209.3,91.4 210.2,92.2 211.1,92.9 212.0,93.7 212.9,94.5 213.8,95.3 214.8,96.1 215.7,96.8 216.7,97.5 217.7,98.2 218.6,98.8 219.6,99.4 220.7,100.0 221.7,100.5 222.7,101.0 223.8,101.4 224.8,101.8 225.9,102.1 226.9,102.4 228.0,102.7 229.1,103.0 230.2,103.2 231.4,103.4 232.5,103.6 233.6,103.8 234.8,103.9 235.9,104.0 237.1,104.1 238.3,104.2 239.4,104.3 240.6,104.4 241.8,104.4 243.1,104.5 244.3,104.5 245.5,104.6 246.7,104.6 248.0,104.6 249.3,104.7 250.5,104.7 251.8,104.7 253.1,104.7 254.4,104.7 255.7,104.8 257.0,104.8 258.3,104.8 259.6,104.8 261.0,104.8 262.3,104.8 263.7,104.8 265.0,104.8 266.4,104.8 267.8,104.8 269.2,104.8 270.6,104.8 272.0,104.8 273.4,104.8 274.8,104.8" fill="none" stroke="#3d9a52" stroke-width="1.6" stroke-linejoin="round"/>
<path d="M188.4,104.5 188.5,104.5 188.7,104.5 188.9,104.5 189.2,104.5 189.5,104.4 189.9,104.4 190.3,104.3 190.7,104.1 191.1,103.8 191.6,103.3 192.1,102.6 192.6,101.7 193.1,100.3 193.7,98.7 194.3,96.6 194.9,94.3 195.5,91.9 196.1,89.4 196.8,87.1 197.5,85.1 198.1,83.7 198.8,82.9 199.6,82.7 200.3,82.9 201.0,83.3 201.8,83.9 202.6,84.6 203.4,85.5 204.2,86.5 205.0,87.6 205.9,88.7 206.7,89.9 207.6,91.0 208.5,92.2 209.4,93.3 210.3,94.3 211.2,95.3 212.1,96.3 213.0,97.2 214.0,98.0 215.0,98.7 215.9,99.4 216.9,100.1 217.9,100.6 218.9,101.1 220.0,101.6 221.0,101.9 222.0,102.3 223.1,102.6 224.2,102.9 225.3,103.1 226.3,103.3 227.4,103.5 228.6,103.6 229.7,103.8 230.8,103.9 231.9,104.0 233.1,104.1 234.3,104.1 235.4,104.2 236.6,104.2 237.8,104.3 239.0,104.3 240.2,104.4 241.4,104.4 242.7,104.4 243.9,104.4 245.1,104.4 246.4,104.5 247.7,104.5 248.9,104.5 250.2,104.5 251.5,104.5 252.8,104.5 254.1,104.5 255.4,104.5 256.8,104.5 258.1,104.5 259.4,104.5 260.8,104.5 262.2,104.5 263.5,104.5 264.9,104.5 266.3,104.5 267.7,104.5 269.1,104.5 270.5,104.5 271.9,104.5 273.4,104.5 274.8,104.5" fill="none" stroke="#9cbfb0" stroke-width="1.6" stroke-linejoin="round"/>
<path d="M184.1,105.5 184.2,105.5 184.4,105.5 184.6,105.5 184.9,105.5 185.3,105.5 185.7,105.5 186.1,105.5 186.5,105.5 187.0,105.5 187.5,105.5 188.0,105.5 188.5,105.5 189.1,105.5 189.7,105.5 190.3,105.5 190.9,105.5 191.5,105.5 192.2,105.5 192.9,105.5 193.6,105.5 194.3,105.5 195.1,105.5 195.8,105.5 196.6,105.4 197.4,105.4 198.2,105.4 199.0,105.3 199.8,105.2 200.7,105.1 201.5,104.8 202.4,104.5 203.3,104.1 204.2,103.5 205.2,102.7 206.1,101.9 207.0,100.9 208.0,99.8 209.0,98.7 210.0,97.6 211.0,96.6 212.0,95.7 213.0,94.9 214.0,94.3 215.1,93.9 216.2,93.7 217.2,93.7 218.3,93.8 219.4,93.9 220.5,94.0 221.6,94.2 222.8,94.4 223.9,94.7 225.1,94.9 226.2,95.2 227.4,95.5 228.6,95.9 229.8,96.2 231.0,96.5 232.2,96.9 233.5,97.2 234.7,97.6 236.0,97.9 237.2,98.3 238.5,98.6 239.8,99.0 241.0,99.3 242.3,99.6 243.7,99.9 245.0,100.2 246.3,100.5 247.6,100.8 249.0,101.1 250.3,101.3 251.7,101.6 253.1,101.8 254.5,102.0 255.9,102.3 257.3,102.5 258.7,102.6 260.1,102.8 261.5,103.0 263.0,103.2 264.4,103.3 265.9,103.5 267.3,103.6 268.8,103.7 270.3,103.8 271.8,104.0 273.3,104.1 274.8,104.2" fill="none" stroke="#8c1c4a" stroke-width="1.6" stroke-linejoin="round"/>
<path d="M183.6,92.1 184.5,71.6 185.4,52.0 186.2,42.2 186.9,39.5 187.6,41.7 188.4,51.0 189.5,64.7 190.8,77.4 192.4,87.2 194.0,95.0 195.9,100.4 198.9,103.8 203.8,104.9 225.4,105.1 274.8,105.1" fill="none" stroke="#eca08e" stroke-width="1.5" stroke-linejoin="round"/>
<path d="M186.2,42.7 L186.9,39.5 L187.5,41.7" fill="none" stroke="#5a4a78" stroke-width="1.6" stroke-linecap="round" stroke-linejoin="round"/>
<path d="M176.2,129.2 L176.2,228.4 L275.5,228.4" fill="none" stroke="#6a6a6a" stroke-width="0.75"/>
<line x1="174.6" y1="224.30" x2="176.2" y2="224.30" stroke="#6a6a6a" stroke-width="0.6"/>
<text x="173.90" y="226.70" font-size="5.6" text-anchor="end" fill="#2a2a2a" stroke="#2a2a2a" stroke-width="0.2" font-weight="normal" >0</text>
<line x1="174.6" y1="190.95" x2="176.2" y2="190.95" stroke="#6a6a6a" stroke-width="0.6"/>
<text x="173.90" y="193.35" font-size="5.6" text-anchor="end" fill="#2a2a2a" stroke="#2a2a2a" stroke-width="0.2" font-weight="normal" >50</text>
<line x1="174.6" y1="157.60" x2="176.2" y2="157.60" stroke="#6a6a6a" stroke-width="0.6"/>
<text x="173.90" y="160.00" font-size="5.6" text-anchor="end" fill="#2a2a2a" stroke="#2a2a2a" stroke-width="0.2" font-weight="normal" >100</text>
<line x1="180.50" y1="228.4" x2="180.50" y2="230.0" stroke="#6a6a6a" stroke-width="0.6"/>
<text x="180.50" y="236.10" font-size="5.6" text-anchor="middle" fill="#2a2a2a" stroke="#2a2a2a" stroke-width="0.2" font-weight="normal" >0.000</text>
<line x1="202.95" y1="228.4" x2="202.95" y2="230.0" stroke="#6a6a6a" stroke-width="0.6"/>
<text x="202.95" y="236.10" font-size="5.6" text-anchor="middle" fill="#2a2a2a" stroke="#2a2a2a" stroke-width="0.2" font-weight="normal" >0.025</text>
<line x1="225.40" y1="228.4" x2="225.40" y2="230.0" stroke="#6a6a6a" stroke-width="0.6"/>
<text x="225.40" y="236.10" font-size="5.6" text-anchor="middle" fill="#2a2a2a" stroke="#2a2a2a" stroke-width="0.2" font-weight="normal" >0.050</text>
<line x1="247.85" y1="228.4" x2="247.85" y2="230.0" stroke="#6a6a6a" stroke-width="0.6"/>
<text x="247.85" y="236.10" font-size="5.6" text-anchor="middle" fill="#2a2a2a" stroke="#2a2a2a" stroke-width="0.2" font-weight="normal" >0.075</text>
<line x1="270.30" y1="228.4" x2="270.30" y2="230.0" stroke="#6a6a6a" stroke-width="0.6"/>
<text x="270.30" y="236.10" font-size="5.6" text-anchor="middle" fill="#2a2a2a" stroke="#2a2a2a" stroke-width="0.2" font-weight="normal" >0.100</text>
<text x="162.3" y="179.3" font-size="5.4" text-anchor="middle" fill="#333" stroke="#333" stroke-width="0.18" transform="rotate(-90 162.3 179.3)">density</text>
<text x="225.40" y="241.70" font-size="5.7" text-anchor="middle" fill="#333" stroke="#333" stroke-width="0.18">Δ d [mm]</text>
<path d="M185.9,223.6 186.0,223.6 186.2,223.6 186.4,223.6 186.7,223.6 187.1,223.6 187.4,223.6 187.8,223.6 188.2,223.6 188.7,223.6 189.2,223.6 189.7,223.6 190.2,223.6 190.8,223.6 191.3,223.6 191.9,223.6 192.6,223.6 193.2,223.6 193.8,223.6 194.5,223.6 195.2,223.6 195.9,223.6 196.6,223.6 197.4,223.6 198.1,223.5 198.9,223.5 199.7,223.4 200.5,223.3 201.3,223.1 202.1,222.8 203.0,222.5 203.9,222.1 204.7,221.6 205.6,220.9 206.5,220.2 207.4,219.4 208.4,218.5 209.3,217.5 210.3,216.4 211.2,215.4 212.2,214.3 213.2,213.3 214.2,212.4 215.2,211.5 216.3,210.8 217.3,210.2 218.4,209.7 219.4,209.4 220.5,209.3 221.6,209.3 222.7,209.4 223.8,209.5 224.9,209.6 226.1,209.8 227.2,210.0 228.4,210.2 229.5,210.5 230.7,210.8 231.9,211.1 233.1,211.5 234.3,211.8 235.5,212.2 236.7,212.5 238.0,212.9 239.2,213.3 240.5,213.7 241.7,214.1 243.0,214.5 244.3,214.9 245.6,215.2 246.9,215.6 248.2,216.0 249.5,216.3 250.8,216.7 252.2,217.0 253.5,217.4 254.9,217.7 256.2,218.0 257.6,218.3 259.0,218.6 260.4,218.8 261.8,219.1 263.2,219.4 264.6,219.6 266.0,219.8 267.5,220.1 268.9,220.3 270.4,220.5 271.8,220.7 273.3,220.8 274.8,221.0" fill="none" stroke="#5e4d86" stroke-width="1.6" stroke-linejoin="round"/>
<path d="M185.9,223.8 186.0,223.8 186.2,223.8 186.4,223.8 186.7,223.8 187.1,223.8 187.4,223.8 187.8,223.8 188.2,223.8 188.7,223.8 189.2,223.8 189.7,223.8 190.2,223.8 190.8,223.8 191.3,223.8 191.9,223.8 192.6,223.8 193.2,223.8 193.8,223.8 194.5,223.8 195.2,223.8 195.9,223.8 196.6,223.8 197.4,223.8 198.1,223.8 198.9,223.8 199.7,223.8 200.5,223.8 201.3,223.8 202.1,223.8 203.0,223.8 203.9,223.8 204.7,223.7 205.6,223.7 206.5,223.7 207.4,223.6 208.4,223.5 209.3,223.3 210.3,223.0 211.2,222.6 212.2,222.1 213.2,221.4 214.2,220.6 215.2,219.7 216.3,218.6 217.3,217.4 218.4,216.1 219.4,214.9 220.5,213.7 221.6,212.6 222.7,211.7 223.8,211.1 224.9,210.6 226.1,210.4 227.2,210.4 228.4,210.5 229.5,210.6 230.7,210.7 231.9,210.9 233.1,211.1 234.3,211.3 235.5,211.5 236.7,211.8 238.0,212.1 239.2,212.4 240.5,212.7 241.7,213.0 243.0,213.4 244.3,213.7 245.6,214.1 246.9,214.4 248.2,214.8 249.5,215.1 250.8,215.5 252.2,215.8 253.5,216.2 254.9,216.5 256.2,216.8 257.6,217.2 259.0,217.5 260.4,217.8 261.8,218.1 263.2,218.4 264.6,218.6 266.0,218.9 267.5,219.2 268.9,219.4 270.4,219.6 271.8,219.9 273.3,220.1 274.8,220.3" fill="none" stroke="#223f72" stroke-width="1.6" stroke-linejoin="round"/>
<path d="M187.7,223.5 187.8,223.5 188.0,223.5 188.2,223.5 188.5,223.5 188.8,223.5 189.2,223.5 189.6,223.5 190.0,223.5 190.4,223.5 190.9,223.5 191.4,223.5 191.9,223.5 192.5,223.5 193.0,223.5 193.6,223.5 194.2,223.5 194.8,223.5 195.5,223.5 196.1,223.4 196.8,223.4 197.5,223.3 198.2,223.1 198.9,222.9 199.7,222.5 200.4,222.0 201.2,221.4 202.0,220.5 202.8,219.5 203.6,218.3 204.4,216.9 205.3,215.4 206.2,213.9 207.0,212.4 207.9,210.9 208.8,209.6 209.7,208.5 210.6,207.6 211.6,207.1 212.5,206.8 213.5,206.8 214.5,206.9 215.5,207.1 216.5,207.3 217.5,207.6 218.5,207.9 219.5,208.3 220.6,208.7 221.6,209.1 222.7,209.6 223.8,210.1 224.8,210.6 225.9,211.1 227.0,211.7 228.2,212.2 229.3,212.7 230.4,213.3 231.6,213.8 232.7,214.3 233.9,214.8 235.1,215.3 236.3,215.8 237.5,216.2 238.7,216.7 239.9,217.1 241.1,217.5 242.4,217.9 243.6,218.3 244.9,218.6 246.2,218.9 247.4,219.3 248.7,219.5 250.0,219.8 251.3,220.1 252.6,220.3 253.9,220.6 255.3,220.8 256.6,221.0 258.0,221.2 259.3,221.4 260.7,221.5 262.1,221.7 263.4,221.8 264.8,221.9 266.2,222.1 267.6,222.2 269.0,222.3 270.5,222.4 271.9,222.5 273.3,222.6 274.8,222.6" fill="none" stroke="#c42a40" stroke-width="1.6" stroke-linejoin="round"/>
<path d="M189.5,223.2 189.6,223.2 189.8,223.2 190.0,223.2 190.3,223.2 190.6,223.2 190.9,223.2 191.3,223.2 191.7,223.2 192.2,223.2 192.6,223.2 193.1,223.2 193.6,223.2 194.2,223.1 194.7,223.0 195.3,222.9 195.9,222.7 196.5,222.4 197.1,221.9 197.8,221.3 198.4,220.4 199.1,219.3 199.8,218.0 200.5,216.4 201.2,214.7 202.0,212.8 202.7,210.8 203.5,208.8 204.3,207.0 205.1,205.3 205.9,204.0 206.7,203.0 207.6,202.4 208.4,202.2 209.3,202.3 210.2,202.5 211.1,202.8 212.0,203.2 212.9,203.7 213.8,204.2 214.8,204.9 215.7,205.6 216.7,206.3 217.7,207.0 218.6,207.8 219.6,208.6 220.7,209.4 221.7,210.2 222.7,211.0 223.8,211.8 224.8,212.5 225.9,213.3 226.9,214.0 228.0,214.6 229.1,215.3 230.2,215.9 231.4,216.5 232.5,217.0 233.6,217.5 234.8,218.0 235.9,218.5 237.1,218.9 238.3,219.3 239.4,219.6 240.6,219.9 241.8,220.2 243.1,220.5 244.3,220.8 245.5,221.0 246.7,221.2 248.0,221.4 249.3,221.6 250.5,221.8 251.8,221.9 253.1,222.0 254.4,222.2 255.7,222.3 257.0,222.4 258.3,222.5 259.6,222.5 261.0,222.6 262.3,222.7 263.7,222.7 265.0,222.8 266.4,222.8 267.8,222.9 269.2,222.9 270.6,222.9 272.0,223.0 273.4,223.0 274.8,223.0" fill="none" stroke="#1c8aa6" stroke-width="1.6" stroke-linejoin="round"/>
<path d="M189.5,223.0 189.6,223.0 189.8,223.0 190.0,223.0 190.3,223.0 190.6,222.9 190.9,222.9 191.3,222.9 191.7,222.8 192.2,222.8 192.6,222.6 193.1,222.4 193.6,222.0 194.2,221.5 194.7,220.8 195.3,219.9 195.9,218.6 196.5,217.1 197.1,215.3 197.8,213.2 198.4,211.0 199.1,208.7 199.8,206.5 200.5,204.5 201.2,202.8 202.0,201.6 202.7,200.8 203.5,200.6 204.3,200.7 205.1,201.1 205.9,201.5 206.7,202.2 207.6,202.9 208.4,203.8 209.3,204.7 210.2,205.7 211.1,206.8 212.0,207.8 212.9,208.9 213.8,210.0 214.8,211.0 215.7,212.0 216.7,213.0 217.7,213.9 218.6,214.8 219.6,215.6 220.7,216.3 221.7,217.0 222.7,217.7 223.8,218.3 224.8,218.8 225.9,219.3 226.9,219.7 228.0,220.1 229.1,220.5 230.2,220.8 231.4,221.0 232.5,221.3 233.6,221.5 234.8,221.7 235.9,221.9 237.1,222.0 238.3,222.1 239.4,222.3 240.6,222.4 241.8,222.4 243.1,222.5 244.3,222.6 245.5,222.6 246.7,222.7 248.0,222.7 249.3,222.8 250.5,222.8 251.8,222.8 253.1,222.8 254.4,222.9 255.7,222.9 257.0,222.9 258.3,222.9 259.6,222.9 261.0,222.9 262.3,222.9 263.7,222.9 265.0,222.9 266.4,222.9 267.8,222.9 269.2,222.9 270.6,222.9 272.0,223.0 273.4,223.0 274.8,223.0" fill="none" stroke="#3d9a52" stroke-width="1.6" stroke-linejoin="round"/>
<path d="M188.4,222.6 188.5,222.6 188.7,222.5 188.9,222.5 189.2,222.5 189.5,222.5 189.9,222.4 190.3,222.2 190.7,222.0 191.1,221.6 191.6,220.9 192.1,220.0 192.6,218.7 193.1,216.9 193.7,214.6 194.3,211.8 194.9,208.7 195.5,205.3 196.1,201.9 196.8,198.8 197.5,196.1 198.1,194.2 198.8,193.1 199.6,192.8 200.3,193.1 201.0,193.6 201.8,194.4 202.6,195.4 203.4,196.6 204.2,198.0 205.0,199.5 205.9,201.0 206.7,202.6 207.6,204.1 208.5,205.7 209.4,207.2 210.3,208.7 211.2,210.0 212.1,211.3 213.0,212.5 214.0,213.7 215.0,214.7 215.9,215.6 216.9,216.5 217.9,217.2 218.9,217.9 220.0,218.5 221.0,219.0 222.0,219.5 223.1,219.9 224.2,220.3 225.3,220.6 226.3,220.9 227.4,221.1 228.6,221.3 229.7,221.5 230.8,221.7 231.9,221.8 233.1,221.9 234.3,222.0 235.4,222.1 236.6,222.2 237.8,222.2 239.0,222.3 240.2,222.3 241.4,222.4 242.7,222.4 243.9,222.4 245.1,222.4 246.4,222.5 247.7,222.5 248.9,222.5 250.2,222.5 251.5,222.5 252.8,222.5 254.1,222.5 255.4,222.5 256.8,222.5 258.1,222.5 259.4,222.5 260.8,222.6 262.2,222.6 263.5,222.6 264.9,222.6 266.3,222.6 267.7,222.6 269.1,222.6 270.5,222.6 271.9,222.6 273.4,222.6 274.8,222.6" fill="none" stroke="#9cbfb0" stroke-width="1.6" stroke-linejoin="round"/>
<path d="M184.1,223.8 184.2,223.8 184.4,223.8 184.6,223.8 184.9,223.8 185.3,223.8 185.7,223.8 186.1,223.8 186.5,223.8 187.0,223.8 187.5,223.8 188.0,223.8 188.5,223.8 189.1,223.8 189.7,223.8 190.3,223.8 190.9,223.8 191.5,223.8 192.2,223.8 192.9,223.8 193.6,223.8 194.3,223.8 195.1,223.8 195.8,223.8 196.6,223.8 197.4,223.8 198.2,223.7 199.0,223.7 199.8,223.5 200.7,223.3 201.5,223.0 202.4,222.5 203.3,221.9 204.2,221.1 205.2,220.1 206.1,219.0 207.0,217.6 208.0,216.2 209.0,214.7 210.0,213.2 211.0,211.7 212.0,210.5 213.0,209.4 214.0,208.6 215.1,208.1 216.2,207.8 217.2,207.8 218.3,207.9 219.4,208.1 220.5,208.3 221.6,208.5 222.8,208.8 223.9,209.1 225.1,209.5 226.2,209.9 227.4,210.3 228.6,210.7 229.8,211.2 231.0,211.7 232.2,212.1 233.5,212.6 234.7,213.1 236.0,213.6 237.2,214.1 238.5,214.5 239.8,215.0 241.0,215.4 242.3,215.9 243.7,216.3 245.0,216.7 246.3,217.1 247.6,217.5 249.0,217.9 250.3,218.2 251.7,218.5 253.1,218.9 254.5,219.2 255.9,219.5 257.3,219.7 258.7,220.0 260.1,220.2 261.5,220.5 263.0,220.7 264.4,220.9 265.9,221.1 267.3,221.3 268.8,221.5 270.3,221.6 271.8,221.8 273.3,221.9 274.8,222.1" fill="none" stroke="#8c1c4a" stroke-width="1.6" stroke-linejoin="round"/>
<path d="M183.6,205.6 184.5,177.6 185.4,150.9 186.2,137.6 186.9,133.9 187.6,136.9 188.4,149.6 189.5,168.3 190.8,185.6 192.4,199.0 194.0,209.6 195.9,217.0 198.9,221.6 203.8,223.1 225.4,223.3 274.8,223.4" fill="none" stroke="#eca08e" stroke-width="1.5" stroke-linejoin="round"/>
<path d="M186.2,138.3 L186.9,133.9 L187.5,136.9" fill="none" stroke="#5a4a78" stroke-width="1.6" stroke-linecap="round" stroke-linejoin="round"/>
<path d="M297.4,9.8 L297.4,109.1 L397.9,109.1" fill="none" stroke="#6a6a6a" stroke-width="0.75"/>
<line x1="295.79999999999995" y1="105.30" x2="297.4" y2="105.30" stroke="#6a6a6a" stroke-width="0.6"/>
<text x="295.10" y="107.70" font-size="5.6" text-anchor="end" fill="#2a2a2a" stroke="#2a2a2a" stroke-width="0.2" font-weight="normal" >0.0</text>
<line x1="295.79999999999995" y1="87.40" x2="297.4" y2="87.40" stroke="#6a6a6a" stroke-width="0.6"/>
<text x="295.10" y="89.80" font-size="5.6" text-anchor="end" fill="#2a2a2a" stroke="#2a2a2a" stroke-width="0.2" font-weight="normal" >0.5</text>
<line x1="295.79999999999995" y1="69.50" x2="297.4" y2="69.50" stroke="#6a6a6a" stroke-width="0.6"/>
<text x="295.10" y="71.90" font-size="5.6" text-anchor="end" fill="#2a2a2a" stroke="#2a2a2a" stroke-width="0.2" font-weight="normal" >1.0</text>
<line x1="295.79999999999995" y1="51.60" x2="297.4" y2="51.60" stroke="#6a6a6a" stroke-width="0.6"/>
<text x="295.10" y="54.00" font-size="5.6" text-anchor="end" fill="#2a2a2a" stroke="#2a2a2a" stroke-width="0.2" font-weight="normal" >1.5</text>
<line x1="295.79999999999995" y1="33.70" x2="297.4" y2="33.70" stroke="#6a6a6a" stroke-width="0.6"/>
<text x="295.10" y="36.10" font-size="5.6" text-anchor="end" fill="#2a2a2a" stroke="#2a2a2a" stroke-width="0.2" font-weight="normal" >2.0</text>
<line x1="295.79999999999995" y1="15.80" x2="297.4" y2="15.80" stroke="#6a6a6a" stroke-width="0.6"/>
<text x="295.10" y="18.20" font-size="5.6" text-anchor="end" fill="#2a2a2a" stroke="#2a2a2a" stroke-width="0.2" font-weight="normal" >2.5</text>
<line x1="302.50" y1="109.1" x2="302.50" y2="110.69999999999999" stroke="#6a6a6a" stroke-width="0.6"/>
<text x="302.50" y="116.80" font-size="5.6" text-anchor="middle" fill="#2a2a2a" stroke="#2a2a2a" stroke-width="0.2" font-weight="normal" >0.0</text>
<line x1="325.15" y1="109.1" x2="325.15" y2="110.69999999999999" stroke="#6a6a6a" stroke-width="0.6"/>
<text x="325.15" y="116.80" font-size="5.6" text-anchor="middle" fill="#2a2a2a" stroke="#2a2a2a" stroke-width="0.2" font-weight="normal" >2.5</text>
<line x1="347.80" y1="109.1" x2="347.80" y2="110.69999999999999" stroke="#6a6a6a" stroke-width="0.6"/>
<text x="347.80" y="116.80" font-size="5.6" text-anchor="middle" fill="#2a2a2a" stroke="#2a2a2a" stroke-width="0.2" font-weight="normal" >5.0</text>
<line x1="370.45" y1="109.1" x2="370.45" y2="110.69999999999999" stroke="#6a6a6a" stroke-width="0.6"/>
<text x="370.45" y="116.80" font-size="5.6" text-anchor="middle" fill="#2a2a2a" stroke="#2a2a2a" stroke-width="0.2" font-weight="normal" >7.5</text>
<line x1="393.10" y1="109.1" x2="393.10" y2="110.69999999999999" stroke="#6a6a6a" stroke-width="0.6"/>
<text x="393.10" y="116.80" font-size="5.6" text-anchor="middle" fill="#2a2a2a" stroke="#2a2a2a" stroke-width="0.2" font-weight="normal" >10.0</text>
<text x="284.4" y="59.8" font-size="5.4" text-anchor="middle" fill="#333" stroke="#333" stroke-width="0.18" transform="rotate(-90 284.4 59.8)">density</text>
<text x="347.80" y="122.60" font-size="5.45" text-anchor="middle" fill="#333" stroke="#333" stroke-width="0.18">Frames removed</text>
<path d="M302.4,14.7 302.9,33.7 303.3,64.1 303.6,83.8 303.8,94.6 304.1,101.0 305.0,101.7 305.8,87.4 306.3,81.0 306.8,87.4 307.6,101.7 309.0,102.4 310.1,98.1 311.1,101.7 312.5,103.2 314.3,99.9 315.6,102.8 317.4,103.2 319.3,101.4 320.6,103.5 323.3,102.4 325.1,103.9 329.7,103.5 338.7,103.9 356.9,103.9 375.0,104.0 398.5,104.0" fill="none" stroke="#eca08e" stroke-width="1.5" stroke-linejoin="round"/>
<path d="M302.1,61.9 302.5,61.9 302.7,63.3 303.0,69.1 303.2,76.7 303.5,83.8 303.8,88.7 304.1,92.1 304.5,93.5 305.2,94.7 306.1,95.6 307.5,96.8 308.8,97.8 310.7,98.7 312.5,99.5 315.2,100.3 318.8,101.0 323.3,101.7 329.7,102.3 338.7,102.9 347.8,103.3 361.4,103.6 375.0,103.8 388.6,103.9 398.5,104.0" fill="none" stroke="#223f72" stroke-width="1.5" stroke-linejoin="round"/>
<path d="M302.1,63.6 302.5,63.6 302.7,65.1 303.0,70.7 303.2,78.4 303.5,85.3 303.8,90.2 304.1,93.6 304.5,94.9 305.2,95.9 306.1,96.8 307.5,97.8 308.8,98.7 310.7,99.5 312.5,100.2 315.2,100.9 318.8,101.5 323.3,102.1 329.7,102.6 338.7,103.2 347.8,103.5 361.4,103.8 375.0,104.0 388.6,104.1 398.5,104.1" fill="none" stroke="#c42a40" stroke-width="1.5" stroke-linejoin="round"/>
<path d="M302.1,62.1 302.5,62.1 302.7,63.5 303.0,69.2 303.2,76.9 303.5,83.9 303.8,88.8 304.1,92.3 304.5,93.6 305.2,94.7 306.1,95.7 307.5,96.8 308.8,97.8 310.7,98.7 312.5,99.4 315.2,100.2 318.8,100.9 323.3,101.5 329.7,102.2 338.7,102.7 347.8,103.1 361.4,103.4 375.0,103.6 388.6,103.7 398.5,103.8" fill="none" stroke="#3d9a52" stroke-width="1.5" stroke-linejoin="round"/>
<path d="M302.1,61.2 302.5,61.2 302.7,62.7 303.0,68.4 303.2,76.1 303.5,83.1 303.8,88.0 304.1,91.5 304.5,92.9 305.2,94.1 306.1,95.0 307.5,96.3 308.8,97.2 310.7,98.2 312.5,98.9 315.2,99.8 318.8,100.5 323.3,101.2 329.7,101.8 338.7,102.4 347.8,102.8 361.4,103.2 375.0,103.4 388.6,103.5 398.5,103.5" fill="none" stroke="#1c8aa6" stroke-width="1.5" stroke-linejoin="round"/>
<path d="M302.1,63.1 302.5,63.1 302.7,64.5 303.0,70.2 303.2,77.8 303.5,84.8 303.8,89.7 304.1,93.1 304.5,94.4 305.2,95.5 306.1,96.3 307.5,97.4 308.8,98.3 310.7,99.1 312.5,99.8 315.2,100.5 318.8,101.2 323.3,101.8 329.7,102.3 338.7,102.8 347.8,103.2 361.4,103.5 375.0,103.7 388.6,103.8 398.5,103.8" fill="none" stroke="#5e4d86" stroke-width="1.5" stroke-linejoin="round"/>
<path d="M302.1,62.6 302.5,62.6 302.7,64.0 303.0,69.7 303.2,77.4 303.5,84.3 303.8,89.2 304.1,92.6 304.5,94.0 305.2,95.1 306.1,96.0 307.5,97.1 308.8,97.9 310.7,98.8 312.5,99.5 315.2,100.3 318.8,101.0 323.3,101.5 329.7,102.1 338.7,102.7 347.8,103.0 361.4,103.4 375.0,103.5 388.6,103.6 398.5,103.7" fill="none" stroke="#8c1c4a" stroke-width="1.5" stroke-linejoin="round"/>
<path d="M302.1,62.9 302.5,62.9 302.7,64.3 303.0,70.0 303.2,77.6 303.5,84.6 303.8,89.5 304.1,92.9 304.5,94.3 305.2,95.4 306.1,96.3 307.5,97.4 308.8,98.2 310.7,99.1 312.5,99.8 315.2,100.5 318.8,101.2 323.3,101.8 329.7,102.4 338.7,103.0 347.8,103.3 361.4,103.6 375.0,103.8 388.6,103.9 398.5,104.0" fill="none" stroke="#9cbfb0" stroke-width="1.5" stroke-linejoin="round"/>
<path d="M301.1,86.7 L303.2,86.7" stroke="#444" stroke-width="1.3"/>
<path d="M302.4,14.7 302.9,33.7 303.3,64.1 303.6,83.8" fill="none" stroke="#e9a096" stroke-width="1.25" stroke-linejoin="round"/>
<path d="M305.0,101.7 305.8,87.4 306.3,81.0 306.8,87.4 307.6,101.7" fill="none" stroke="#eca08e" stroke-width="1.4" stroke-linejoin="round"/>
<path d="M302.4,17.2 L302.4,14.7" stroke="#6a6078" stroke-width="1.4" stroke-linecap="round"/>
<path d="M302.2,64.5 L303.3,65.9" stroke="#5a5a5a" stroke-width="1.6" stroke-linecap="round"/>
<path d="M297.4,129.1 L297.4,228.39999999999998 L397.9,228.39999999999998" fill="none" stroke="#6a6a6a" stroke-width="0.75"/>
<line x1="295.79999999999995" y1="224.60" x2="297.4" y2="224.60" stroke="#6a6a6a" stroke-width="0.6"/>
<text x="295.10" y="227.00" font-size="5.6" text-anchor="end" fill="#2a2a2a" stroke="#2a2a2a" stroke-width="0.2" font-weight="normal" >0.0</text>
<line x1="295.79999999999995" y1="206.70" x2="297.4" y2="206.70" stroke="#6a6a6a" stroke-width="0.6"/>
<text x="295.10" y="209.10" font-size="5.6" text-anchor="end" fill="#2a2a2a" stroke="#2a2a2a" stroke-width="0.2" font-weight="normal" >0.5</text>
<line x1="295.79999999999995" y1="188.80" x2="297.4" y2="188.80" stroke="#6a6a6a" stroke-width="0.6"/>
<text x="295.10" y="191.20" font-size="5.6" text-anchor="end" fill="#2a2a2a" stroke="#2a2a2a" stroke-width="0.2" font-weight="normal" >1.0</text>
<line x1="295.79999999999995" y1="170.90" x2="297.4" y2="170.90" stroke="#6a6a6a" stroke-width="0.6"/>
<text x="295.10" y="173.30" font-size="5.6" text-anchor="end" fill="#2a2a2a" stroke="#2a2a2a" stroke-width="0.2" font-weight="normal" >1.5</text>
<line x1="295.79999999999995" y1="153.00" x2="297.4" y2="153.00" stroke="#6a6a6a" stroke-width="0.6"/>
<text x="295.10" y="155.40" font-size="5.6" text-anchor="end" fill="#2a2a2a" stroke="#2a2a2a" stroke-width="0.2" font-weight="normal" >2.0</text>
<line x1="295.79999999999995" y1="135.10" x2="297.4" y2="135.10" stroke="#6a6a6a" stroke-width="0.6"/>
<text x="295.10" y="137.50" font-size="5.6" text-anchor="end" fill="#2a2a2a" stroke="#2a2a2a" stroke-width="0.2" font-weight="normal" >2.5</text>
<line x1="302.50" y1="228.39999999999998" x2="302.50" y2="229.99999999999997" stroke="#6a6a6a" stroke-width="0.6"/>
<text x="302.50" y="236.10" font-size="5.6" text-anchor="middle" fill="#2a2a2a" stroke="#2a2a2a" stroke-width="0.2" font-weight="normal" >0.0</text>
<line x1="325.15" y1="228.39999999999998" x2="325.15" y2="229.99999999999997" stroke="#6a6a6a" stroke-width="0.6"/>
<text x="325.15" y="236.10" font-size="5.6" text-anchor="middle" fill="#2a2a2a" stroke="#2a2a2a" stroke-width="0.2" font-weight="normal" >2.5</text>
<line x1="347.80" y1="228.39999999999998" x2="347.80" y2="229.99999999999997" stroke="#6a6a6a" stroke-width="0.6"/>
<text x="347.80" y="236.10" font-size="5.6" text-anchor="middle" fill="#2a2a2a" stroke="#2a2a2a" stroke-width="0.2" font-weight="normal" >5.0</text>
<line x1="370.45" y1="228.39999999999998" x2="370.45" y2="229.99999999999997" stroke="#6a6a6a" stroke-width="0.6"/>
<text x="370.45" y="236.10" font-size="5.6" text-anchor="middle" fill="#2a2a2a" stroke="#2a2a2a" stroke-width="0.2" font-weight="normal" >7.5</text>
<line x1="393.10" y1="228.39999999999998" x2="393.10" y2="229.99999999999997" stroke="#6a6a6a" stroke-width="0.6"/>
<text x="393.10" y="236.10" font-size="5.6" text-anchor="middle" fill="#2a2a2a" stroke="#2a2a2a" stroke-width="0.2" font-weight="normal" >10.0</text>
<text x="284.4" y="179.1" font-size="5.4" text-anchor="middle" fill="#333" stroke="#333" stroke-width="0.18" transform="rotate(-90 284.4 179.1)">density</text>
<text x="347.80" y="241.90" font-size="5.45" text-anchor="middle" fill="#333" stroke="#333" stroke-width="0.18">Frames removed</text>
<path d="M302.4,134.0 302.9,153.0 303.3,183.4 303.6,203.1 303.8,213.9 304.1,220.3 305.0,221.0 305.8,206.7 306.3,200.3 306.8,206.7 307.6,221.0 309.0,221.7 310.1,217.4 311.1,221.0 312.5,222.5 314.3,219.2 315.6,222.1 317.4,222.5 319.3,220.7 320.6,222.8 323.3,221.7 325.1,223.2 329.7,222.8 338.7,223.2 356.9,223.2 375.0,223.3 398.5,223.3" fill="none" stroke="#eca08e" stroke-width="1.5" stroke-linejoin="round"/>
<path d="M302.1,181.2 302.5,181.2 302.7,182.6 303.0,188.4 303.2,196.0 303.5,203.1 303.8,208.0 304.1,211.4 304.5,212.8 305.2,214.0 306.1,214.9 307.5,216.1 308.8,217.1 310.7,218.0 312.5,218.8 315.2,219.6 318.8,220.3 323.3,221.0 329.7,221.6 338.7,222.2 347.8,222.6 361.4,222.9 375.0,223.1 388.6,223.2 398.5,223.3" fill="none" stroke="#223f72" stroke-width="1.5" stroke-linejoin="round"/>
<path d="M302.1,182.9 302.5,182.9 302.7,184.4 303.0,190.0 303.2,197.7 303.5,204.6 303.8,209.5 304.1,212.9 304.5,214.2 305.2,215.2 306.1,216.1 307.5,217.1 308.8,218.0 310.7,218.8 312.5,219.5 315.2,220.2 318.8,220.8 323.3,221.4 329.7,221.9 338.7,222.5 347.8,222.8 361.4,223.1 375.0,223.3 388.6,223.4 398.5,223.4" fill="none" stroke="#c42a40" stroke-width="1.5" stroke-linejoin="round"/>
<path d="M302.1,181.4 302.5,181.4 302.7,182.8 303.0,188.5 303.2,196.2 303.5,203.2 303.8,208.1 304.1,211.6 304.5,212.9 305.2,214.0 306.1,215.0 307.5,216.1 308.8,217.1 310.7,218.0 312.5,218.7 315.2,219.5 318.8,220.2 323.3,220.8 329.7,221.5 338.7,222.0 347.8,222.4 361.4,222.7 375.0,222.9 388.6,223.0 398.5,223.1" fill="none" stroke="#3d9a52" stroke-width="1.5" stroke-linejoin="round"/>
<path d="M302.1,180.5 302.5,180.5 302.7,182.0 303.0,187.7 303.2,195.4 303.5,202.4 303.8,207.3 304.1,210.8 304.5,212.2 305.2,213.4 306.1,214.3 307.5,215.6 308.8,216.5 310.7,217.5 312.5,218.2 315.2,219.1 318.8,219.8 323.3,220.5 329.7,221.1 338.7,221.7 347.8,222.1 361.4,222.5 375.0,222.7 388.6,222.8 398.5,222.8" fill="none" stroke="#1c8aa6" stroke-width="1.5" stroke-linejoin="round"/>
<path d="M302.1,182.4 302.5,182.4 302.7,183.8 303.0,189.5 303.2,197.1 303.5,204.1 303.8,209.0 304.1,212.4 304.5,213.7 305.2,214.8 306.1,215.6 307.5,216.7 308.8,217.6 310.7,218.4 312.5,219.1 315.2,219.8 318.8,220.5 323.3,221.1 329.7,221.6 338.7,222.1 347.8,222.5 361.4,222.8 375.0,223.0 388.6,223.1 398.5,223.1" fill="none" stroke="#5e4d86" stroke-width="1.5" stroke-linejoin="round"/>
<path d="M302.1,181.9 302.5,181.9 302.7,183.3 303.0,189.0 303.2,196.7 303.5,203.6 303.8,208.5 304.1,211.9 304.5,213.3 305.2,214.4 306.1,215.3 307.5,216.4 308.8,217.2 310.7,218.1 312.5,218.8 315.2,219.6 318.8,220.3 323.3,220.8 329.7,221.4 338.7,222.0 347.8,222.3 361.4,222.7 375.0,222.8 388.6,222.9 398.5,223.0" fill="none" stroke="#8c1c4a" stroke-width="1.5" stroke-linejoin="round"/>
<path d="M302.1,182.2 302.5,182.2 302.7,183.6 303.0,189.3 303.2,196.9 303.5,203.9 303.8,208.8 304.1,212.2 304.5,213.6 305.2,214.7 306.1,215.6 307.5,216.7 308.8,217.5 310.7,218.4 312.5,219.1 315.2,219.8 318.8,220.5 323.3,221.1 329.7,221.7 338.7,222.3 347.8,222.6 361.4,222.9 375.0,223.1 388.6,223.2 398.5,223.3" fill="none" stroke="#9cbfb0" stroke-width="1.5" stroke-linejoin="round"/>
<path d="M301.1,206.0 L303.2,206.0" stroke="#444" stroke-width="1.3"/>
<path d="M302.4,134.0 302.9,153.0 303.3,183.4 303.6,203.1" fill="none" stroke="#e9a096" stroke-width="1.25" stroke-linejoin="round"/>
<path d="M305.0,221.0 305.8,206.7 306.3,200.3 306.8,206.7 307.6,221.0" fill="none" stroke="#eca08e" stroke-width="1.4" stroke-linejoin="round"/>
<path d="M302.4,136.5 L302.4,134.0" stroke="#6a6078" stroke-width="1.4" stroke-linecap="round"/>
<path d="M302.2,183.8 L303.3,185.2" stroke="#5a5a5a" stroke-width="1.6" stroke-linecap="round"/>
<rect x="193.5" y="13.7" width="5.6" height="5.6" fill="#fff" stroke="#1f3b6a" stroke-width="1.25"/>
<text x="203.00" y="18.50" font-size="4.7" fill="#555">EMO</text>
<rect x="193.5" y="21.5" width="5.6" height="5.6" fill="#fff" stroke="#c42a42" stroke-width="1.25"/>
<text x="203.00" y="26.30" font-size="4.7" fill="#555">GAM</text>
<rect x="217.2" y="13.7" width="5.6" height="5.6" fill="#fff" stroke="#45a658" stroke-width="1.25"/>
<text x="226.70" y="18.50" font-size="4.7" fill="#555">LAN</text>
<rect x="217.2" y="21.5" width="5.6" height="5.6" fill="#fff" stroke="#1890b0" stroke-width="1.25"/>
<text x="226.70" y="26.30" font-size="4.7" fill="#555">MOT</text>
<rect x="240.0" y="13.7" width="5.6" height="5.6" fill="#fff" stroke="#5e4f7e" stroke-width="1.25"/>
<text x="249.50" y="18.50" font-size="4.7" fill="#555">R1</text>
<rect x="240.0" y="21.5" width="5.6" height="5.6" fill="#fff" stroke="#f0c8b4" stroke-width="1.25"/>
<text x="249.50" y="26.30" font-size="4.7" fill="#555">R2</text>
<rect x="258.7" y="13.7" width="5.6" height="5.6" fill="#fff" stroke="#7a1838" stroke-width="1.25"/>
<text x="268.20" y="18.50" font-size="4.7" fill="#555">REL</text>
<rect x="258.7" y="21.5" width="5.6" height="5.6" fill="#fff" stroke="#9cc8b6" stroke-width="1.25"/>
<text x="268.20" y="26.30" font-size="4.7" fill="#555">WM</text>
</svg></body></html>
